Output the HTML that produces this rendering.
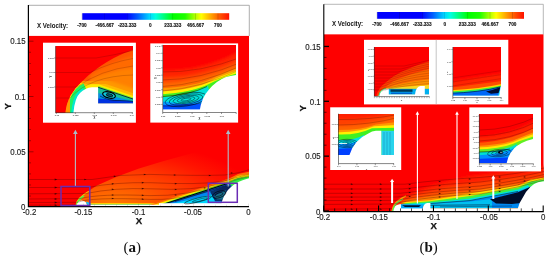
<!DOCTYPE html>
<html><head><meta charset="utf-8"><title>X Velocity contours</title>
<style>
html,body{margin:0;padding:0;background:#fff;}
body{width:550px;height:260px;overflow:hidden;}
svg{display:block;}
</style></head><body>
<svg width="550" height="260" viewBox="0 0 550 260">
<rect width="550" height="260" fill="#fff"/>

<defs>
<linearGradient id="rb" x1="0" x2="1" y1="0" y2="0">
<stop offset="0" stop-color="#0000ff"/><stop offset="0.30" stop-color="#0000ff"/>
<stop offset="0.38" stop-color="#0060ff"/><stop offset="0.46" stop-color="#00d8ff"/>
<stop offset="0.50" stop-color="#00ffe0"/><stop offset="0.57" stop-color="#00ff60"/>
<stop offset="0.62" stop-color="#00ff00"/><stop offset="0.70" stop-color="#20ff00"/>
<stop offset="0.76" stop-color="#a0ff00"/><stop offset="0.81" stop-color="#ffff00"/>
<stop offset="0.88" stop-color="#ffa000"/><stop offset="0.94" stop-color="#ff5000"/>
<stop offset="1" stop-color="#ff1000"/>
</linearGradient>
<filter id="b1" x="-20%" y="-20%" width="140%" height="140%"><feGaussianBlur stdDeviation="0.7"/></filter>
<filter id="b2" x="-20%" y="-20%" width="140%" height="140%"><feGaussianBlur stdDeviation="1.6"/></filter>
<filter id="b3" x="-20%" y="-20%" width="140%" height="140%"><feGaussianBlur stdDeviation="3"/></filter>
<filter id="b0" x="-20%" y="-20%" width="140%" height="140%"><feGaussianBlur stdDeviation="0.35"/></filter>
<clipPath id="ca"><rect x="28" y="36" width="221" height="170"/></clipPath>
<clipPath id="cb"><rect x="324" y="34" width="220" height="177"/></clipPath>
<clipPath id="ca1"><rect x="55.5" y="46" width="77.5" height="67"/></clipPath>
<clipPath id="ca2"><rect x="163" y="45" width="73" height="67"/></clipPath>
<clipPath id="cb1"><rect x="374" y="47" width="55" height="49"/></clipPath>
<clipPath id="cb2"><rect x="453" y="47" width="48" height="50"/></clipPath>
<clipPath id="cb3"><rect x="338" y="114" width="56" height="41"/></clipPath>
<clipPath id="cb4"><rect x="479" y="114" width="54" height="49"/></clipPath>
</defs>

<g id="panelA">
<rect x="28.5" y="35.7" width="220.5" height="170.3" fill="#fe0000"/>
<g clip-path="url(#ca)">
<clipPath id="psA"><path d="M75.5,206 Q76,201 79,198 Q83,194 88.4,191 L97,185.5 L116,177 L139,168.5 L162,161.5 L200,151 L250,140 L250,206 Z"/></clipPath>
<radialGradient id="rgA" gradientUnits="userSpaceOnUse" cx="112" cy="204" r="150" gradientTransform="translate(112 204) scale(1 0.42) translate(-112 -204)"><stop offset="0" stop-color="#ff7a00"/><stop offset="0.22" stop-color="#ff6000"/><stop offset="0.5" stop-color="#ff3c00"/><stop offset="0.8" stop-color="#ff1400"/><stop offset="1" stop-color="#fe0000"/></radialGradient>
<g clip-path="url(#psA)"><rect x="70" y="130" width="185" height="80" fill="url(#rgA)"/>
<path d="M75.5,206 Q76,201 79,198 Q83,194 88.4,191" fill="none" stroke="#ffc000" stroke-width="2" filter="url(#b0)"/>
<path d="M76.8,206 Q77.3,201.5 80,199 Q82,197 84,196" fill="none" stroke="#60f040" stroke-width="1.8" filter="url(#b0)"/>
</g>
<path d="M90,203.4 L160,203.8" stroke="#ffd000" stroke-width="1" filter="url(#b0)"/>
<path d="M90,204.2 L160,204.4" stroke="#60f060" stroke-width="1" filter="url(#b0)"/>
<path d="M148,205.5 L229,178.5 L238,174 L250,171.5 L250,184 L236,184 L222,196 L160,206 Z" fill="#ff7000" filter="url(#b1)"/>
<path d="M152,205.6 L229,180.3 L238,176 L250,174 L250,184 L236,184 L222,196 L160,206 Z" fill="#ffe800" filter="url(#b0)"/>
<path d="M156,205.7 L229,181.8 L238,178 L250,176.3 L250,184 L236,184 L222,196 L160,206 Z" fill="#30f040" filter="url(#b0)"/>
<path d="M159.5,205.5 L229,183 L232,186 L222,203.5 L165,203.8 Z" fill="#0a50b0"/>
<path d="M168,203.8 L215,190 L223,191 L221,203.8 Z" fill="#0088f0" filter="url(#b0)"/>
<path d="M172,203.8 L212,194.5 L216,203.8 Z" fill="#00d8ff" filter="url(#b0)"/>
<path d="M210,191.5 L228,185 L231,187 L224,201 L215,201 Z" fill="#0a1a4a" opacity="0.8"/>
<path d="M214,196 L226,190 L223,199.5 L217,199.5 Z" fill="#1a7a90" opacity="0.8"/>
<path d="M159.5,205.5 L229,183" stroke="#000" stroke-width="1"/>
<path d="M175,201.5 L226,185.5" stroke="#001" stroke-width="0.6" opacity="0.8"/>
<path d="M221,206 L222,201.3 Q225,192 231,187 Q237,181 250,178 L250,206 Z" fill="#fff"/>
<rect x="159" y="203.2" width="70" height="3.5" fill="#fff"/>
<rect x="88" y="204.8" width="162" height="2" fill="#fff"/>
<path d="M76.3,206 Q77.6,200.8 81.5,200.4 Q85,200.6 86,202.5 L87.5,206 Z" fill="#fff"/>
<path d="M86,201.5 L90.5,203.2 L90.5,204.8 L87,204.8 Z" fill="#00c8ff"/>
<path d="M28.5,179.5 L92,179.5 Q120,174 150,174.4 Q200,176 225,175 Q240,173 250,169.5" fill="none" stroke="#400" stroke-width="0.5" opacity="0.6"/>
<path d="M28.5,187.5 L88,187.5 Q115,182 150,182.7 Q200,185 222,181.5 Q238,177 250,174" fill="none" stroke="#400" stroke-width="0.5" opacity="0.6"/>
<path d="M28.5,193.8 L86,193.5 Q115,187.5 150,188.8 Q195,191 220,184 Q238,178 250,175.5" fill="none" stroke="#400" stroke-width="0.5" opacity="0.6"/>
<path d="M28.5,199 L80,198.6 Q100,193.5 150,195.6 Q185,196.5 222,184.5 Q238,179 250,176.5" fill="none" stroke="#400" stroke-width="0.5" opacity="0.6"/>
<path d="M28.5,202.5 L78,202.3 Q90,197 150,199.4 Q175,200 190,195" fill="none" stroke="#400" stroke-width="0.5" opacity="0.6"/>
<path d="M28.5,205.2 L76,205" fill="none" stroke="#400" stroke-width="0.5" opacity="0.6"/>
<path d="M54.7,178.59 L57.3,179.5 L54.7,180.41 Z" fill="#200" opacity="0.8"/>
<path d="M54.7,186.59 L57.3,187.5 L54.7,188.41 Z" fill="#200" opacity="0.8"/>
<path d="M54.7,192.89000000000001 L57.3,193.8 L54.7,194.71 Z" fill="#200" opacity="0.8"/>
<path d="M54.7,198.09 L57.3,199 L54.7,199.91 Z" fill="#200" opacity="0.8"/>
<path d="M54.7,201.59 L57.3,202.5 L54.7,203.41 Z" fill="#200" opacity="0.8"/>
<path d="M54.7,204.29 L57.3,205.2 L54.7,206.10999999999999 Z" fill="#200" opacity="0.8"/>
<path d="M84.3,178.66 L86.7,179.5 L84.3,180.34 Z" fill="#200" opacity="0.8"/>
<path d="M113.8,175.46 L116.2,176.3 L113.8,177.14000000000001 Z" fill="#200" opacity="0.8"/>
<path d="M143.8,173.66 L146.2,174.5 L143.8,175.34 Z" fill="#200" opacity="0.8"/>
<path d="M173.8,174.16 L176.2,175 L173.8,175.84 Z" fill="#200" opacity="0.8"/>
<path d="M208.8,174.66 L211.2,175.5 L208.8,176.34 Z" fill="#200" opacity="0.8"/>
<path d="M111.8,182.96 L114.2,183.8 L111.8,184.64000000000001 Z" fill="#200" opacity="0.8"/>
<path d="M141.8,181.85999999999999 L144.2,182.7 L141.8,183.54 Z" fill="#200" opacity="0.8"/>
<path d="M174.8,182.85999999999999 L177.2,183.7 L174.8,184.54 Z" fill="#200" opacity="0.8"/>
<path d="M111.8,188.46 L114.2,189.3 L111.8,190.14000000000001 Z" fill="#200" opacity="0.8"/>
<path d="M141.8,187.76 L144.2,188.6 L141.8,189.44 Z" fill="#200" opacity="0.8"/>
<path d="M174.8,188.66 L177.2,189.5 L174.8,190.34 Z" fill="#200" opacity="0.8"/>
<path d="M111.8,194.16 L114.2,195 L111.8,195.84 Z" fill="#200" opacity="0.8"/>
<path d="M141.8,194.46 L144.2,195.3 L141.8,196.14000000000001 Z" fill="#200" opacity="0.8"/>
<path d="M174.8,194.16 L177.2,195 L174.8,195.84 Z" fill="#200" opacity="0.8"/>
<path d="M111.8,197.66 L114.2,198.5 L111.8,199.34 Z" fill="#200" opacity="0.8"/>
<path d="M141.8,198.35999999999999 L144.2,199.2 L141.8,200.04 Z" fill="#200" opacity="0.8"/>
<path d="M203.8,187.16 L206.2,188 L203.8,188.84 Z" fill="#200" opacity="0.8"/>
<path d="M230.8,172.16 L233.2,173 L230.8,173.84 Z" fill="#200" opacity="0.8"/>
<ellipse cx="219" cy="194.5" rx="7" ry="3.2" fill="none" stroke="#000" stroke-width="0.6" transform="rotate(-18 219 194.5)"/>
<ellipse cx="219" cy="194.5" rx="4" ry="1.6" fill="none" stroke="#000" stroke-width="0.5" transform="rotate(-18 219 194.5)"/>
<ellipse cx="198" cy="200" rx="14" ry="2" fill="none" stroke="#000" stroke-width="0.5" transform="rotate(-14 198 200)"/>
<ellipse cx="200" cy="200" rx="8" ry="1" fill="none" stroke="#000" stroke-width="0.4" transform="rotate(-14 200 200)"/>
</g>
<rect x="28.5" y="5" width="220.5" height="30.7" fill="#fff"/>
<rect x="82.3" y="13.2" width="146.9" height="6.6" fill="url(#rb)"/>
<text transform="translate(37,27.5) scale(0.92,1)" font-size="6.7" text-anchor="start" font-weight="bold" fill="#111" font-family="Liberation Sans, sans-serif">X Velocity:</text>
<text transform="translate(82,27.2) scale(0.98,1)" font-size="4.8" text-anchor="middle" font-weight="bold" fill="#111" stroke="#111" stroke-width="0.12" font-family="Liberation Sans, sans-serif">-700</text>
<path d="M82,13.4 v6.4" stroke="#000" stroke-width="0.4" opacity="0.35"/>
<text transform="translate(104.7,27.2) scale(0.98,1)" font-size="4.8" text-anchor="middle" font-weight="bold" fill="#111" stroke="#111" stroke-width="0.12" font-family="Liberation Sans, sans-serif">-466.667</text>
<path d="M104.7,13.4 v6.4" stroke="#000" stroke-width="0.4" opacity="0.35"/>
<text transform="translate(127.2,27.2) scale(0.98,1)" font-size="4.8" text-anchor="middle" font-weight="bold" fill="#111" stroke="#111" stroke-width="0.12" font-family="Liberation Sans, sans-serif">-233.333</text>
<path d="M127.2,13.4 v6.4" stroke="#000" stroke-width="0.4" opacity="0.35"/>
<text transform="translate(150.2,27.2) scale(0.98,1)" font-size="4.8" text-anchor="middle" font-weight="bold" fill="#111" stroke="#111" stroke-width="0.12" font-family="Liberation Sans, sans-serif">0</text>
<path d="M150.2,13.4 v6.4" stroke="#000" stroke-width="0.4" opacity="0.35"/>
<text transform="translate(172.8,27.2) scale(0.98,1)" font-size="4.8" text-anchor="middle" font-weight="bold" fill="#111" stroke="#111" stroke-width="0.12" font-family="Liberation Sans, sans-serif">233.333</text>
<path d="M172.8,13.4 v6.4" stroke="#000" stroke-width="0.4" opacity="0.35"/>
<text transform="translate(195.5,27.2) scale(0.98,1)" font-size="4.8" text-anchor="middle" font-weight="bold" fill="#111" stroke="#111" stroke-width="0.12" font-family="Liberation Sans, sans-serif">466.667</text>
<path d="M195.5,13.4 v6.4" stroke="#000" stroke-width="0.4" opacity="0.35"/>
<text transform="translate(218,27.2) scale(0.98,1)" font-size="4.8" text-anchor="middle" font-weight="bold" fill="#111" stroke="#111" stroke-width="0.12" font-family="Liberation Sans, sans-serif">700</text>
<path d="M218,13.4 v6.4" stroke="#000" stroke-width="0.4" opacity="0.35"/>
<path d="M28.5,5.3 L249.3,5.3 L249.3,36" fill="none" stroke="#999" stroke-width="0.8"/>
<path d="M28.4,5 L28.4,206.7 L249,206.7" fill="none" stroke="#000" stroke-width="1.2"/>
<path d="M28.50,206 v-2.4" stroke="#000" stroke-width="0.4" opacity="0.25"/>
<path d="M39.50,206 v-1.4" stroke="#000" stroke-width="0.4" opacity="0.25"/>
<path d="M50.50,206 v-1.4" stroke="#000" stroke-width="0.4" opacity="0.25"/>
<path d="M61.50,206 v-1.4" stroke="#000" stroke-width="0.4" opacity="0.25"/>
<path d="M72.50,206 v-1.4" stroke="#000" stroke-width="0.4" opacity="0.25"/>
<path d="M83.50,206 v-2.4" stroke="#000" stroke-width="0.4" opacity="0.25"/>
<path d="M94.50,206 v-1.4" stroke="#000" stroke-width="0.4" opacity="0.25"/>
<path d="M105.50,206 v-1.4" stroke="#000" stroke-width="0.4" opacity="0.25"/>
<path d="M116.50,206 v-1.4" stroke="#000" stroke-width="0.4" opacity="0.25"/>
<path d="M127.50,206 v-1.4" stroke="#000" stroke-width="0.4" opacity="0.25"/>
<path d="M138.50,206 v-2.4" stroke="#000" stroke-width="0.4" opacity="0.25"/>
<path d="M149.50,206 v-1.4" stroke="#000" stroke-width="0.4" opacity="0.25"/>
<path d="M160.50,206 v-1.4" stroke="#000" stroke-width="0.4" opacity="0.25"/>
<path d="M171.50,206 v-1.4" stroke="#000" stroke-width="0.4" opacity="0.25"/>
<path d="M182.50,206 v-1.4" stroke="#000" stroke-width="0.4" opacity="0.25"/>
<path d="M193.50,206 v-2.4" stroke="#000" stroke-width="0.4" opacity="0.25"/>
<path d="M204.50,206 v-1.4" stroke="#000" stroke-width="0.4" opacity="0.25"/>
<path d="M215.50,206 v-1.4" stroke="#000" stroke-width="0.4" opacity="0.25"/>
<path d="M226.50,206 v-1.4" stroke="#000" stroke-width="0.4" opacity="0.25"/>
<path d="M237.50,206 v-1.4" stroke="#000" stroke-width="0.4" opacity="0.25"/>
<path d="M248.50,206 v-2.4" stroke="#000" stroke-width="0.4" opacity="0.25"/>
<path d="M29,196.04 h2" stroke="#000" stroke-width="0.6" opacity="0.6"/>
<path d="M29,184.98 h2" stroke="#000" stroke-width="0.6" opacity="0.6"/>
<path d="M29,173.92 h2" stroke="#000" stroke-width="0.6" opacity="0.6"/>
<path d="M29,162.86 h2" stroke="#000" stroke-width="0.6" opacity="0.6"/>
<path d="M29,151.80 h4.5" stroke="#000" stroke-width="0.6" opacity="0.6"/>
<path d="M29,140.74 h2" stroke="#000" stroke-width="0.6" opacity="0.6"/>
<path d="M29,129.68 h2" stroke="#000" stroke-width="0.6" opacity="0.6"/>
<path d="M29,118.62 h2" stroke="#000" stroke-width="0.6" opacity="0.6"/>
<path d="M29,107.56 h2" stroke="#000" stroke-width="0.6" opacity="0.6"/>
<path d="M29,96.50 h4.5" stroke="#000" stroke-width="0.6" opacity="0.6"/>
<path d="M29,85.44 h2" stroke="#000" stroke-width="0.6" opacity="0.6"/>
<path d="M29,74.38 h2" stroke="#000" stroke-width="0.6" opacity="0.6"/>
<path d="M29,63.32 h2" stroke="#000" stroke-width="0.6" opacity="0.6"/>
<path d="M29,52.26 h2" stroke="#000" stroke-width="0.6" opacity="0.6"/>
<path d="M29,41.20 h4.5" stroke="#000" stroke-width="0.6" opacity="0.6"/>
<rect x="43" y="42.7" width="92.9" height="80" fill="#fff"/>
<clipPath id="ps1"><path d="M65.3,114 Q66.3,103 70.6,95.7 Q75,88 81.1,82.6 Q87,76 94.2,70.8 Q100,66 107.3,61.7 Q118,55 133,50 L133,114 Z"/></clipPath>
<g clip-path="url(#ca1)">
<rect x="55" y="46" width="78" height="67" fill="#fe0000"/>
<g clip-path="url(#ps1)">
<rect x="56" y="47" width="77" height="67" fill="#ff5400"/>
<path d="M90,114 L90,75 Q110,62 133,56 L133,114 Z" fill="#ff6a00" filter="url(#b2)"/>
<path d="M90,114 L90,80 Q110,70 133,68 L133,114 Z" fill="#ff8000" filter="url(#b2)"/>
<path d="M73.3,114 Q74.5,98 80,93 Q85,88 92,87.3 L98.1,87.3 L133,99" fill="none" stroke="#ff9800" stroke-width="20" filter="url(#b2)"/>
<path d="M73.3,114 Q74.5,98 80,93 Q83,90 86,88.6" fill="none" stroke="#ffe000" stroke-width="15" filter="url(#b1)"/>
<path d="M79,94 Q85,88 92,87.3 L99,87.3" fill="none" stroke="#ffd000" stroke-width="13" filter="url(#b2)"/>
<path d="M84,89.5 Q88,87.5 92,87.3 L98.1,87.3 L133,99" fill="none" stroke="#ffb800" stroke-width="11" filter="url(#b1)"/>
<path d="M84,89.5 Q88,87.5 92,87.3 L98.1,87.3 L133,99" fill="none" stroke="#ffe800" stroke-width="6" filter="url(#b1)"/>
<path d="M98.1,87.3 L133,99" fill="none" stroke="#70f030" stroke-width="2.6" filter="url(#b0)"/>
<path d="M73.3,114 Q74.5,98 80,93 Q83,90 86,88.6" fill="none" stroke="#20f060" stroke-width="11.5" filter="url(#b1)"/>
<path d="M73.3,114 Q74.5,98 80,93 Q82,91 84,89.8" fill="none" stroke="#00e8d0" stroke-width="4.4" filter="url(#b0)"/>
</g>
<path d="M98.1,87.3 L133,99 L133,103.6 L98.1,103.6 Z" fill="#0090e8"/>
<path d="M98.1,87.3 L133,99 L133,101 L98.1,93 Z" fill="#18c098" filter="url(#b0)"/>
<path d="M98.1,98.5 L133,101.5 L133,103.6 L98.1,103.6 Z" fill="#0030e0" filter="url(#b0)"/>
<path d="M98.1,87.3 L133,99" stroke="#112" stroke-width="0.8"/>
<ellipse cx="109" cy="95" rx="6.5" ry="3" fill="#10c8d8" stroke="#000" stroke-width="1.2" transform="rotate(14 109 95)"/>
<ellipse cx="109.5" cy="95.2" rx="3.4" ry="1.3" fill="#0a5a70" stroke="#000" stroke-width="0.7" transform="rotate(14 109.5 95.2)"/>
<path d="M100,96 Q108,101 120,100.5 Q127,100.5 133,101.5" stroke="#012" stroke-width="0.6" fill="none"/>
<path d="M73.3,114 Q74.5,98 80,93 Q85,88 92,87.3 L98.1,87.3 L98.1,103.6 L133,103.6 L133,114 Z" fill="#fff"/>
<path d="M56,58 L96,58 Q115,55 133,50.5" fill="none" stroke="#300" stroke-width="0.4" opacity="0.45"/>
<path d="M56,72.5 L90,72.5 Q112,62 133,58.5" fill="none" stroke="#300" stroke-width="0.4" opacity="0.45"/>
<path d="M56,87 L77,87 Q100,70 133,66" fill="none" stroke="#300" stroke-width="0.4" opacity="0.45"/>
<path d="M56,98 L70,98 Q90,76 133,75" fill="none" stroke="#300" stroke-width="0.4" opacity="0.45"/>
</g>
<path d="M55.6,46.2 L55.6,112.7 L132.8,112.7" fill="none" stroke="#333" stroke-width="0.6"/>
<path d="M56.3,112.5 v1.5" stroke="#333" stroke-width="0.5"/>
<path d="M75.3,112.5 v1.5" stroke="#333" stroke-width="0.5"/>
<path d="M94.3,112.5 v1.5" stroke="#333" stroke-width="0.5"/>
<path d="M113.3,112.5 v1.5" stroke="#333" stroke-width="0.5"/>
<path d="M132.3,112.5 v1.5" stroke="#333" stroke-width="0.5"/>
<path d="M55.6,58 h-1.5" stroke="#333" stroke-width="0.5"/>
<path d="M55.6,72.5 h-1.5" stroke="#333" stroke-width="0.5"/>
<path d="M55.6,87 h-1.5" stroke="#333" stroke-width="0.5"/>
<text x="56.5" y="115.8" font-size="2.3" text-anchor="middle" font-weight="bold" fill="#555" font-family="Liberation Sans, sans-serif" >-0.16</text>
<text x="75.3" y="115.8" font-size="2.3" text-anchor="middle" font-weight="bold" fill="#555" font-family="Liberation Sans, sans-serif" >-0.155</text>
<text x="94.3" y="115.8" font-size="2.3" text-anchor="middle" font-weight="bold" fill="#555" font-family="Liberation Sans, sans-serif" >-0.15</text>
<text x="113.3" y="115.8" font-size="2.3" text-anchor="middle" font-weight="bold" fill="#555" font-family="Liberation Sans, sans-serif" >-0.145</text>
<text x="131.5" y="115.8" font-size="2.3" text-anchor="middle" font-weight="bold" fill="#555" font-family="Liberation Sans, sans-serif" >-0.14</text>
<text x="53.8" y="58.8" font-size="2.3" text-anchor="end" font-weight="bold" fill="#556" font-family="Liberation Sans, sans-serif" >0.015</text>
<text x="53.8" y="73.3" font-size="2.3" text-anchor="end" font-weight="bold" fill="#556" font-family="Liberation Sans, sans-serif" >0.01</text>
<text x="53.8" y="87.8" font-size="2.3" text-anchor="end" font-weight="bold" fill="#556" font-family="Liberation Sans, sans-serif" >0.005</text>
<text x="94.5" y="119" font-size="2.8" text-anchor="middle" font-weight="bold" fill="#333" font-family="Liberation Sans, sans-serif" >X</text>
<text x="50.5" y="77.5" font-size="2.8" text-anchor="middle" font-weight="bold" fill="#333" font-family="Liberation Sans, sans-serif" transform="rotate(-90 50.5 76.5)">Y</text>
<rect x="150.3" y="43.4" width="87.8" height="79.2" fill="#fff"/>
<g clip-path="url(#ca2)">
<rect x="162" y="44" width="75" height="69" fill="#fe0000"/>
<path d="M157,70 Q200,73 242,50 L242,118 L157,118 Z" fill="#ff2000" filter="url(#b2)"/>
<path d="M157,77 Q200,79 242,57 L242,118 L157,118 Z" fill="#ff4400" filter="url(#b2)"/>
<path d="M157,83 Q200,83 242,62 L242,118 L157,118 Z" fill="#ff6800" filter="url(#b2)"/>
<path d="M157,88.5 Q196,86.5 212,78.5 Q220,74 242,66.5 L242,118 L157,118 Z" fill="#ff9800" filter="url(#b1)"/>
<path d="M157,91.7 Q194,90 211,81 Q220,76 242,69 L242,118 L157,118 Z" fill="#fff000" filter="url(#b1)"/>
<path d="M157,94.6 Q192,93 210,83.5 Q220,78 242,71.8 L242,118 L157,118 Z" fill="#40f020" filter="url(#b1)"/>
<path d="M157,97.6 Q190,96 208,86 L216,118 L157,118 Z" fill="#00e0d8" filter="url(#b1)"/>
<path d="M157,101.5 Q172,101.5 180,104 Q192,104 203,98 L212,118 L157,118 Z" fill="#00a0ff" filter="url(#b1)"/>
<path d="M157,105 L203,103.5 L203,118 L157,118 Z" fill="#0050ff" filter="url(#b1)"/>
<ellipse cx="186" cy="99.5" rx="21" ry="6.5" fill="none" stroke="#001" stroke-width="0.55" opacity="0.85" transform="rotate(-9 186 99.5)"/>
<ellipse cx="186" cy="99.5" rx="17" ry="5" fill="none" stroke="#001" stroke-width="0.55" opacity="0.85" transform="rotate(-9 186 99.5)"/>
<ellipse cx="186" cy="99.5" rx="13" ry="3.7" fill="none" stroke="#001" stroke-width="0.55" opacity="0.85" transform="rotate(-9 186 99.5)"/>
<ellipse cx="186" cy="99.5" rx="9" ry="2.5" fill="none" stroke="#001" stroke-width="0.55" opacity="0.85" transform="rotate(-9 186 99.5)"/>
<ellipse cx="186" cy="99.5" rx="5" ry="1.3" fill="none" stroke="#001" stroke-width="0.55" opacity="0.85" transform="rotate(-9 186 99.5)"/>
<path d="M163,96.5 Q190,95 207,86.5" fill="none" stroke="#001" stroke-width="0.6" opacity="0.8"/>
<path d="M163,106 Q185,107 201,103" fill="none" stroke="#001" stroke-width="0.5" opacity="0.7"/>
<path d="M199.3,113 Q201,98 209,89.5 Q216,81 226,77 Q232,75 242,74.3 L242,113 Z" fill="#fff"/>
<rect x="157" y="109.4" width="85" height="5" fill="#fff"/>
<path d="M162,72 Q200,73 242,57" fill="none" stroke="#300" stroke-width="0.4" opacity="0.55"/>
<path d="M162,80 Q200,80 242,62" fill="none" stroke="#300" stroke-width="0.4" opacity="0.55"/>
<path d="M162,86.5 Q200,85 242,65.5" fill="none" stroke="#300" stroke-width="0.4" opacity="0.55"/>
<path d="M162,91 Q200,88.5 242,69" fill="none" stroke="#300" stroke-width="0.4" opacity="0.55"/>
</g>
<path d="M162.7,44.9 L162.7,112.5 L236.2,112.5" fill="none" stroke="#333" stroke-width="0.6"/>
<path d="M162.7,112.5 v1.5" stroke="#333" stroke-width="0.5"/>
<path d="M177.4,112.5 v1.5" stroke="#333" stroke-width="0.5"/>
<path d="M192.1,112.5 v1.5" stroke="#333" stroke-width="0.5"/>
<path d="M206.8,112.5 v1.5" stroke="#333" stroke-width="0.5"/>
<path d="M221.5,112.5 v1.5" stroke="#333" stroke-width="0.5"/>
<path d="M236.2,112.5 v1.5" stroke="#333" stroke-width="0.5"/>
<text x="162.7" y="116.8" font-size="2.2" text-anchor="middle" font-weight="bold" fill="#555" font-family="Liberation Sans, sans-serif" >-0.03</text>
<text x="177.39999999999998" y="116.8" font-size="2.2" text-anchor="middle" font-weight="bold" fill="#555" font-family="Liberation Sans, sans-serif" >-0.025</text>
<text x="192.1" y="116.8" font-size="2.2" text-anchor="middle" font-weight="bold" fill="#555" font-family="Liberation Sans, sans-serif" >-0.02</text>
<text x="206.79999999999998" y="116.8" font-size="2.2" text-anchor="middle" font-weight="bold" fill="#555" font-family="Liberation Sans, sans-serif" >-0.015</text>
<text x="221.5" y="116.8" font-size="2.2" text-anchor="middle" font-weight="bold" fill="#555" font-family="Liberation Sans, sans-serif" >-0.01</text>
<path d="M162.7,46.0 h-1.5" stroke="#333" stroke-width="0.5"/>
<text x="160.6" y="46.8" font-size="2.2" text-anchor="end" font-weight="bold" fill="#555" font-family="Liberation Sans, sans-serif" >0.045</text>
<path d="M162.7,53.3 h-1.5" stroke="#333" stroke-width="0.5"/>
<text x="160.6" y="54.099999999999994" font-size="2.2" text-anchor="end" font-weight="bold" fill="#555" font-family="Liberation Sans, sans-serif" >0.04</text>
<path d="M162.7,60.6 h-1.5" stroke="#333" stroke-width="0.5"/>
<text x="160.6" y="61.4" font-size="2.2" text-anchor="end" font-weight="bold" fill="#555" font-family="Liberation Sans, sans-serif" >0.035</text>
<path d="M162.7,67.9 h-1.5" stroke="#333" stroke-width="0.5"/>
<text x="160.6" y="68.7" font-size="2.2" text-anchor="end" font-weight="bold" fill="#555" font-family="Liberation Sans, sans-serif" >0.03</text>
<path d="M162.7,75.2 h-1.5" stroke="#333" stroke-width="0.5"/>
<text x="160.6" y="76.0" font-size="2.2" text-anchor="end" font-weight="bold" fill="#555" font-family="Liberation Sans, sans-serif" >0.025</text>
<path d="M162.7,82.5 h-1.5" stroke="#333" stroke-width="0.5"/>
<text x="160.6" y="83.3" font-size="2.2" text-anchor="end" font-weight="bold" fill="#555" font-family="Liberation Sans, sans-serif" >0.02</text>
<path d="M162.7,89.8 h-1.5" stroke="#333" stroke-width="0.5"/>
<text x="160.6" y="90.6" font-size="2.2" text-anchor="end" font-weight="bold" fill="#555" font-family="Liberation Sans, sans-serif" >0.015</text>
<path d="M162.7,97.1 h-1.5" stroke="#333" stroke-width="0.5"/>
<text x="160.6" y="97.89999999999999" font-size="2.2" text-anchor="end" font-weight="bold" fill="#555" font-family="Liberation Sans, sans-serif" >0.01</text>
<path d="M162.7,104.4 h-1.5" stroke="#333" stroke-width="0.5"/>
<text x="160.6" y="105.2" font-size="2.2" text-anchor="end" font-weight="bold" fill="#555" font-family="Liberation Sans, sans-serif" >0.005</text>
<text x="199.5" y="119.8" font-size="2.8" text-anchor="middle" font-weight="bold" fill="#333" font-family="Liberation Sans, sans-serif" >X</text>
<text x="155.5" y="79" font-size="2.8" text-anchor="middle" font-weight="bold" fill="#333" font-family="Liberation Sans, sans-serif" transform="rotate(-90 155.5 78)">Y</text>
<path d="M75.4,132.7 L75.4,186" stroke="#b0bcc4" stroke-width="1.1"/>
<path d="M73.10000000000001,134.1 L75.4,129.7 L77.7,134.1 Z" fill="#a8bcc8"/>
<path d="M228.2,132.7 L228.2,186.5" stroke="#b0bcc4" stroke-width="1.1"/>
<path d="M225.89999999999998,134.1 L228.2,129.7 L230.5,134.1 Z" fill="#a8bcc8"/>
<rect x="61" y="186.5" width="28.8" height="19" fill="none" stroke="#6a2cb4" stroke-width="1.5"/>
<rect x="208.3" y="183.3" width="29" height="19" fill="none" stroke="#6a2cb4" stroke-width="1.5"/>
<text transform="translate(25.6,44.2) scale(0.95,1)" font-size="8.3" text-anchor="end" font-weight="normal" fill="#222" stroke="#222" stroke-width="0.15" font-family="Liberation Sans, sans-serif">0.15</text>
<text transform="translate(25.6,99.6) scale(0.95,1)" font-size="8.3" text-anchor="end" font-weight="normal" fill="#222" stroke="#222" stroke-width="0.15" font-family="Liberation Sans, sans-serif">0.1</text>
<text transform="translate(25.6,154.8) scale(0.95,1)" font-size="8.3" text-anchor="end" font-weight="normal" fill="#222" stroke="#222" stroke-width="0.15" font-family="Liberation Sans, sans-serif">0.05</text>
<text transform="translate(25.3,210.1) scale(0.95,1)" font-size="8.3" text-anchor="end" font-weight="normal" fill="#222" stroke="#222" stroke-width="0.15" font-family="Liberation Sans, sans-serif">0</text>
<text transform="translate(29.5,215.4) scale(0.95,1)" font-size="8.3" text-anchor="middle" font-weight="normal" fill="#222" stroke="#222" stroke-width="0.15" font-family="Liberation Sans, sans-serif">-0.2</text>
<text transform="translate(83.4,215.4) scale(0.95,1)" font-size="8.3" text-anchor="middle" font-weight="normal" fill="#222" stroke="#222" stroke-width="0.15" font-family="Liberation Sans, sans-serif">-0.15</text>
<text transform="translate(138.5,215.4) scale(0.95,1)" font-size="8.3" text-anchor="middle" font-weight="normal" fill="#222" stroke="#222" stroke-width="0.15" font-family="Liberation Sans, sans-serif">-0.1</text>
<text transform="translate(193,215.4) scale(0.95,1)" font-size="8.3" text-anchor="middle" font-weight="normal" fill="#222" stroke="#222" stroke-width="0.15" font-family="Liberation Sans, sans-serif">-0.05</text>
<text transform="translate(248.5,215.4) scale(0.95,1)" font-size="8.3" text-anchor="middle" font-weight="normal" fill="#222" stroke="#222" stroke-width="0.15" font-family="Liberation Sans, sans-serif">0</text>
<text x="139" y="224.2" font-size="9.6" text-anchor="middle" font-weight="bold" fill="#111" stroke="#111" stroke-width="0.25" font-family="Liberation Sans, sans-serif" >X</text>
<text transform="translate(11,106.4) rotate(-90)" font-size="9.6" text-anchor="middle" font-weight="bold" fill="#111" stroke="#111" stroke-width="0.25" font-family="Liberation Sans, sans-serif">Y</text>
</g>
<g id="panelB">
<rect x="324" y="34.2" width="219.5" height="176.8" fill="#fe0000"/>
<g clip-path="url(#cb)">
<path d="M393,211 L399,199 Q430,183 470,176 L544,166 L544,211 Z" fill="#ff1c00" filter="url(#b2)"/>
<path d="M395,211 L401,200 Q430,188 470,183 L544,173 L544,211 Z" fill="#ff4000" filter="url(#b2)"/>
<path d="M399,211 L403,201 Q430,193 470,190 L522,182 L522,211 Z" fill="#ff6400" filter="url(#b2)"/>
<path d="M403,211 L406,201 Q430,196 470,191.5 L518,184 L518,211 Z" fill="#ff8000" filter="url(#b1)"/>
<path d="M401,202.6 L430,200.3 L470,193.5 L518,185.5 L531,179.5 L544,177.5 L544,186 L530,188 L515,198 L430,206 Z" fill="#ffe000" filter="url(#b0)"/>
<path d="M401,203.4 L430,201.3 L470,196 L518,187.5 L531,181.5 L544,179.6 L544,186 L530,188 L515,198 L430,206 Z" fill="#40f040" filter="url(#b0)"/>
<path d="M401,204.2 L430,202.4 L470,198.6 L518,189.5 L528,185 L530,188 L515,199 L430,206 Z" fill="#00e0e0" filter="url(#b0)"/>
<rect x="400.5" y="204.2" width="23" height="4.8" fill="#00a8f8"/>
<path d="M402,205.3 L421,205.3 L419,207 L405,207 Z" fill="#013"/>
<path d="M430,203.5 L470,200.5 L518,191.4 L532,186 L532,208.2 L430,208.2 Z" fill="#0088f0"/>
<path d="M430,204 L470,201.5 L492,199 L492,208.2 L430,208.2 Z" fill="#00c0f0" filter="url(#b0)"/>
<path d="M490,199.3 L518,192.3 L530,187 L530,202 L512,204 L496,203.5 Z" fill="#06102c" filter="url(#b0)"/>
<path d="M430,205.3 L490,204.8" stroke="#013" stroke-width="0.7" opacity="0.8"/>
<path d="M440,206.8 L512,206" stroke="#013" stroke-width="0.5" opacity="0.8"/>
<path d="M430,203.5 L470,200.5 L518,191.4" stroke="#012" stroke-width="0.6" fill="none" opacity="0.85"/>
<rect x="400" y="208.4" width="121" height="3" fill="#fff"/>
<path d="M392,211.5 Q393.5,204.8 399.6,204.2 L401,204.2 L401,209 L422.7,209 Q423.5,203.3 427.3,203 L430.4,203 L430.4,211.5 Z" fill="#fff"/>
<path d="M517.5,211.5 L517.9,208.3 Q519.5,202 522.7,197.7 Q526,191 530.4,187 Q534,183.5 538,182.3 L544,181.3 L544,211.5 Z" fill="#fff"/>
<path d="M392,211 Q393,205 397,201.5 Q401,198.3 406,195.8" fill="none" stroke="#ffb000" stroke-width="1.3" opacity="0.85" filter="url(#b0)"/>
<path d="M392.8,211 Q393.8,205.5 397.5,202.5 Q400,200.5 403,199" fill="none" stroke="#50e850" stroke-width="1.3" filter="url(#b0)"/>
<path d="M324,184.2 L405,184.2 Q440,179.5 480,177.5 Q520,174 544,168" fill="none" stroke="#400" stroke-width="0.5" opacity="0.6"/>
<path d="M324,189 L402,189 Q440,184 480,182 Q520,177.5 544,171.5" fill="none" stroke="#400" stroke-width="0.5" opacity="0.6"/>
<path d="M324,193.3 L400,193.3 Q440,188 480,186 Q520,180.5 544,174.5" fill="none" stroke="#400" stroke-width="0.5" opacity="0.6"/>
<path d="M324,197.1 L398,197 Q430,191.5 480,189 Q520,183 544,177" fill="none" stroke="#400" stroke-width="0.5" opacity="0.6"/>
<path d="M324,200.6 L396,200.4 Q425,194.5 480,191.5 Q520,185.5 544,178.5" fill="none" stroke="#400" stroke-width="0.5" opacity="0.6"/>
<path d="M324,204.4 L394,204 Q420,197 480,194 Q520,187.5 544,180" fill="none" stroke="#400" stroke-width="0.5" opacity="0.6"/>
<path d="M324,209.2 L392,208.7" fill="none" stroke="#400" stroke-width="0.5" opacity="0.6"/>
<path d="M350.8,183.35999999999999 L353.2,184.2 L350.8,185.04 Z" fill="#200" opacity="0.8"/>
<path d="M379.8,183.35999999999999 L382.2,184.2 L379.8,185.04 Z" fill="#200" opacity="0.8"/>
<path d="M350.8,188.16 L353.2,189 L350.8,189.84 Z" fill="#200" opacity="0.8"/>
<path d="M379.8,188.16 L382.2,189 L379.8,189.84 Z" fill="#200" opacity="0.8"/>
<path d="M350.8,192.46 L353.2,193.3 L350.8,194.14000000000001 Z" fill="#200" opacity="0.8"/>
<path d="M379.8,192.46 L382.2,193.3 L379.8,194.14000000000001 Z" fill="#200" opacity="0.8"/>
<path d="M350.8,196.26 L353.2,197.1 L350.8,197.94 Z" fill="#200" opacity="0.8"/>
<path d="M379.8,196.26 L382.2,197.1 L379.8,197.94 Z" fill="#200" opacity="0.8"/>
<path d="M350.8,199.76 L353.2,200.6 L350.8,201.44 Z" fill="#200" opacity="0.8"/>
<path d="M379.8,199.76 L382.2,200.6 L379.8,201.44 Z" fill="#200" opacity="0.8"/>
<path d="M350.8,203.56 L353.2,204.4 L350.8,205.24 Z" fill="#200" opacity="0.8"/>
<path d="M379.8,203.56 L382.2,204.4 L379.8,205.24 Z" fill="#200" opacity="0.8"/>
<path d="M350.8,208.35999999999999 L353.2,209.2 L350.8,210.04 Z" fill="#200" opacity="0.8"/>
<path d="M379.8,208.35999999999999 L382.2,209.2 L379.8,210.04 Z" fill="#200" opacity="0.8"/>
<path d="M408.8,183.66 L411.2,184.5 L408.8,185.34 Z" fill="#200" opacity="0.8"/>
<path d="M438.8,180.66 L441.2,181.5 L438.8,182.34 Z" fill="#200" opacity="0.8"/>
<path d="M468.8,178.16 L471.2,179 L468.8,179.84 Z" fill="#200" opacity="0.8"/>
<path d="M498.8,176.16 L501.2,177 L498.8,177.84 Z" fill="#200" opacity="0.8"/>
<path d="M408.8,187.85999999999999 L411.2,188.7 L408.8,189.54 Z" fill="#200" opacity="0.8"/>
<path d="M438.8,184.85999999999999 L441.2,185.7 L438.8,186.54 Z" fill="#200" opacity="0.8"/>
<path d="M468.8,182.66 L471.2,183.5 L468.8,184.34 Z" fill="#200" opacity="0.8"/>
<path d="M498.8,180.16 L501.2,181 L498.8,181.84 Z" fill="#200" opacity="0.8"/>
<path d="M408.8,191.66 L411.2,192.5 L408.8,193.34 Z" fill="#200" opacity="0.8"/>
<path d="M438.8,188.85999999999999 L441.2,189.7 L438.8,190.54 Z" fill="#200" opacity="0.8"/>
<path d="M468.8,186.66 L471.2,187.5 L468.8,188.34 Z" fill="#200" opacity="0.8"/>
<path d="M498.8,184.16 L501.2,185 L498.8,185.84 Z" fill="#200" opacity="0.8"/>
<path d="M408.8,195.66 L411.2,196.5 L408.8,197.34 Z" fill="#200" opacity="0.8"/>
<path d="M438.8,192.66 L441.2,193.5 L438.8,194.34 Z" fill="#200" opacity="0.8"/>
<path d="M468.8,190.16 L471.2,191 L468.8,191.84 Z" fill="#200" opacity="0.8"/>
<path d="M498.8,187.66 L501.2,188.5 L498.8,189.34 Z" fill="#200" opacity="0.8"/>
<path d="M438.8,196.16 L441.2,197 L438.8,197.84 Z" fill="#200" opacity="0.8"/>
<path d="M468.8,193.66 L471.2,194.5 L468.8,195.34 Z" fill="#200" opacity="0.8"/>
<path d="M498.8,190.66 L501.2,191.5 L498.8,192.34 Z" fill="#200" opacity="0.8"/>
<path d="M523.8,180.16 L526.2,181 L523.8,181.84 Z" fill="#200" opacity="0.8"/>
<path d="M523.8,176.16 L526.2,177 L523.8,177.84 Z" fill="#200" opacity="0.8"/>
</g>
<rect x="324" y="4.5" width="219.5" height="29.7" fill="#fff"/>
<rect x="377.2" y="12" width="146.8" height="6.8" fill="url(#rb)"/>
<text transform="translate(332,26) scale(0.92,1)" font-size="6.7" text-anchor="start" font-weight="bold" fill="#111" font-family="Liberation Sans, sans-serif">X Velocity:</text>
<text transform="translate(377,25.7) scale(0.98,1)" font-size="4.8" text-anchor="middle" font-weight="bold" fill="#111" stroke="#111" stroke-width="0.12" font-family="Liberation Sans, sans-serif">-700</text>
<path d="M377,12 v6.8" stroke="#000" stroke-width="0.4" opacity="0.35"/>
<text transform="translate(399.5,25.7) scale(0.98,1)" font-size="4.8" text-anchor="middle" font-weight="bold" fill="#111" stroke="#111" stroke-width="0.12" font-family="Liberation Sans, sans-serif">-466.667</text>
<path d="M399.5,12 v6.8" stroke="#000" stroke-width="0.4" opacity="0.35"/>
<text transform="translate(422.3,25.7) scale(0.98,1)" font-size="4.8" text-anchor="middle" font-weight="bold" fill="#111" stroke="#111" stroke-width="0.12" font-family="Liberation Sans, sans-serif">-233.333</text>
<path d="M422.3,12 v6.8" stroke="#000" stroke-width="0.4" opacity="0.35"/>
<text transform="translate(444.8,25.7) scale(0.98,1)" font-size="4.8" text-anchor="middle" font-weight="bold" fill="#111" stroke="#111" stroke-width="0.12" font-family="Liberation Sans, sans-serif">0</text>
<path d="M444.8,12 v6.8" stroke="#000" stroke-width="0.4" opacity="0.35"/>
<text transform="translate(467.3,25.7) scale(0.98,1)" font-size="4.8" text-anchor="middle" font-weight="bold" fill="#111" stroke="#111" stroke-width="0.12" font-family="Liberation Sans, sans-serif">233.333</text>
<path d="M467.3,12 v6.8" stroke="#000" stroke-width="0.4" opacity="0.35"/>
<text transform="translate(490,25.7) scale(0.98,1)" font-size="4.8" text-anchor="middle" font-weight="bold" fill="#111" stroke="#111" stroke-width="0.12" font-family="Liberation Sans, sans-serif">466.667</text>
<path d="M490,12 v6.8" stroke="#000" stroke-width="0.4" opacity="0.35"/>
<text transform="translate(512.5,25.7) scale(0.98,1)" font-size="4.8" text-anchor="middle" font-weight="bold" fill="#111" stroke="#111" stroke-width="0.12" font-family="Liberation Sans, sans-serif">700</text>
<path d="M512.5,12 v6.8" stroke="#000" stroke-width="0.4" opacity="0.35"/>
<path d="M324,4.3 L543.3,4.3 L543.3,34.5" fill="none" stroke="#999" stroke-width="0.7"/>
<path d="M323.8,4.3 L323.8,211.6 L543.8,211.6" fill="none" stroke="#000" stroke-width="1.1"/>
<path d="M323.70,211 v-5.5" stroke="#000" stroke-width="1.1"/>
<path d="M334.68,211 v-2.6" stroke="#000" stroke-width="0.7"/>
<path d="M345.65,211 v-2.6" stroke="#000" stroke-width="0.7"/>
<path d="M356.62,211 v-2.6" stroke="#000" stroke-width="0.7"/>
<path d="M367.60,211 v-2.6" stroke="#000" stroke-width="0.7"/>
<path d="M378.57,211 v-5.5" stroke="#000" stroke-width="1.1"/>
<path d="M389.55,211 v-2.6" stroke="#000" stroke-width="0.7"/>
<path d="M400.52,211 v-2.6" stroke="#000" stroke-width="0.7"/>
<path d="M411.50,211 v-2.6" stroke="#000" stroke-width="0.7"/>
<path d="M422.47,211 v-2.6" stroke="#000" stroke-width="0.7"/>
<path d="M433.45,211 v-5.5" stroke="#000" stroke-width="1.1"/>
<path d="M444.42,211 v-2.6" stroke="#000" stroke-width="0.7"/>
<path d="M455.40,211 v-2.6" stroke="#000" stroke-width="0.7"/>
<path d="M466.38,211 v-2.6" stroke="#000" stroke-width="0.7"/>
<path d="M477.35,211 v-2.6" stroke="#000" stroke-width="0.7"/>
<path d="M488.32,211 v-5.5" stroke="#000" stroke-width="1.1"/>
<path d="M499.30,211 v-2.6" stroke="#000" stroke-width="0.7"/>
<path d="M510.27,211 v-2.6" stroke="#000" stroke-width="0.7"/>
<path d="M521.25,211 v-2.6" stroke="#000" stroke-width="0.7"/>
<path d="M532.23,211 v-2.6" stroke="#000" stroke-width="0.7"/>
<path d="M543.20,211 v-5.5" stroke="#000" stroke-width="1.1"/>
<path d="M324,211.00 h5" stroke="#000" stroke-width="1.3"/>
<path d="M324,200.03 h2.5" stroke="#000" stroke-width="0.6"/>
<path d="M324,189.06 h2.5" stroke="#000" stroke-width="0.6"/>
<path d="M324,178.09 h2.5" stroke="#000" stroke-width="0.6"/>
<path d="M324,167.12 h2.5" stroke="#000" stroke-width="0.6"/>
<path d="M324,156.15 h5" stroke="#000" stroke-width="1.3"/>
<path d="M324,145.18 h2.5" stroke="#000" stroke-width="0.6"/>
<path d="M324,134.21 h2.5" stroke="#000" stroke-width="0.6"/>
<path d="M324,123.24 h2.5" stroke="#000" stroke-width="0.6"/>
<path d="M324,112.27 h2.5" stroke="#000" stroke-width="0.6"/>
<path d="M324,101.30 h5" stroke="#000" stroke-width="1.3"/>
<path d="M324,90.33 h2.5" stroke="#000" stroke-width="0.6"/>
<path d="M324,79.36 h2.5" stroke="#000" stroke-width="0.6"/>
<path d="M324,68.39 h2.5" stroke="#000" stroke-width="0.6"/>
<path d="M324,57.42 h2.5" stroke="#000" stroke-width="0.6"/>
<path d="M324,46.45 h5" stroke="#000" stroke-width="1.3"/>
<rect x="364" y="39.8" width="144.3" height="64.6" fill="#fff"/>
<path d="M436.2,39.8 V104.4" stroke="#aaa" stroke-width="0.7"/>
<g clip-path="url(#cb1)">
<rect x="374" y="46" width="56" height="51" fill="#fe0000"/>
<path d="M376.5,100 L376.7,94.6 Q379,88 382.8,85 Q388,80 393.6,76.3 Q402,71 410.8,67.7 Q420,64 434,60 L434,100 Z" fill="#ff3c00" filter="url(#b0)"/>
<path d="M378,100 Q382,88 393,81.5 Q410,73 434,68 L434,100 Z" fill="#ff6a00" filter="url(#b1)"/>
<path d="M379,100 Q383,90 394,85.5 Q412,80.5 434,79 L434,100 Z" fill="#ff9400" filter="url(#b1)"/>
<path d="M379.5,100 Q382,90.5 388,88 L434,84.5 L434,100 Z" fill="#f8d820" filter="url(#b0)"/>
<rect x="388" y="88.8" width="46" height="6" fill="#00b0f0"/>
<rect x="390.5" y="89.4" width="22" height="2.4" fill="#012" opacity="0.75"/>
<path d="M391,93.2 H412" stroke="#0040c0" stroke-width="1"/>
<path d="M378.5,100 L378.5,96 Q380,89.3 386,88.8 L388.8,88.8 L388.8,94.6 L415,94.6 Q415.8,86.5 420.5,86 L424.8,86 L424.8,94.6 L434,94.6 L434,100 Z" fill="#fff"/>
<path d="M378.8,96 Q380.3,89.3 386,88.5" fill="none" stroke="#20e060" stroke-width="0.9"/>
<path d="M374,66 L404,66 Q418,63 430,60" fill="none" stroke="#300" stroke-width="0.35" opacity="0.5"/>
<path d="M374,72 L398,72 Q415,67 430,64" fill="none" stroke="#300" stroke-width="0.35" opacity="0.5"/>
<path d="M374,78 L390,78 Q410,71 430,68" fill="none" stroke="#300" stroke-width="0.35" opacity="0.5"/>
<path d="M374,84 L383,84 Q410,75 430,73" fill="none" stroke="#300" stroke-width="0.35" opacity="0.5"/>
<path d="M374,90 L380,90 Q400,80 430,78" fill="none" stroke="#300" stroke-width="0.35" opacity="0.5"/>
<path d="M374,69 L401,69 Q416,65 430,62" fill="none" stroke="#300" stroke-width="0.35" opacity="0.5"/>
<path d="M374,75 L394,75 Q412,69 430,66" fill="none" stroke="#300" stroke-width="0.35" opacity="0.5"/>
<path d="M374,81 L386,81 Q410,73 430,70.5" fill="none" stroke="#300" stroke-width="0.35" opacity="0.5"/>
<path d="M374,87 L381,87 Q405,77.5 430,75.5" fill="none" stroke="#300" stroke-width="0.35" opacity="0.5"/>
<path d="M382,91 Q400,83 430,81" fill="none" stroke="#300" stroke-width="0.35" opacity="0.5"/>
<path d="M385,90 Q402,85.5 430,83.5" fill="none" stroke="#300" stroke-width="0.35" opacity="0.5"/>
</g>
<path d="M374.4,47 L374.4,96.6 L429.5,96.6" fill="none" stroke="#333" stroke-width="0.6"/>
<path d="M374.4,96.6 v1.6" stroke="#555" stroke-width="0.4"/>
<path d="M376.9,96.6 v1.6" stroke="#555" stroke-width="0.4"/>
<path d="M379.4,96.6 v1.6" stroke="#555" stroke-width="0.4"/>
<path d="M381.9,96.6 v1.6" stroke="#555" stroke-width="0.4"/>
<path d="M384.4,96.6 v1.6" stroke="#555" stroke-width="0.4"/>
<path d="M386.9,96.6 v1.6" stroke="#555" stroke-width="0.4"/>
<path d="M389.4,96.6 v1.6" stroke="#555" stroke-width="0.4"/>
<path d="M391.9,96.6 v1.6" stroke="#555" stroke-width="0.4"/>
<path d="M394.4,96.6 v1.6" stroke="#555" stroke-width="0.4"/>
<path d="M396.9,96.6 v1.6" stroke="#555" stroke-width="0.4"/>
<path d="M399.4,96.6 v1.6" stroke="#555" stroke-width="0.4"/>
<path d="M401.9,96.6 v1.6" stroke="#555" stroke-width="0.4"/>
<path d="M404.4,96.6 v1.6" stroke="#555" stroke-width="0.4"/>
<path d="M406.9,96.6 v1.6" stroke="#555" stroke-width="0.4"/>
<path d="M409.4,96.6 v1.6" stroke="#555" stroke-width="0.4"/>
<path d="M411.9,96.6 v1.6" stroke="#555" stroke-width="0.4"/>
<path d="M414.4,96.6 v1.6" stroke="#555" stroke-width="0.4"/>
<path d="M416.9,96.6 v1.6" stroke="#555" stroke-width="0.4"/>
<path d="M419.4,96.6 v1.6" stroke="#555" stroke-width="0.4"/>
<path d="M421.9,96.6 v1.6" stroke="#555" stroke-width="0.4"/>
<path d="M424.4,96.6 v1.6" stroke="#555" stroke-width="0.4"/>
<path d="M426.9,96.6 v1.6" stroke="#555" stroke-width="0.4"/>
<path d="M429.4,96.6 v1.6" stroke="#555" stroke-width="0.4"/>
<path d="M374.4,49.5 h-1.5" stroke="#333" stroke-width="0.4"/>
<text x="372.5" y="50.2" font-size="1.9" text-anchor="end" font-weight="bold" fill="#666" font-family="Liberation Sans, sans-serif" >0.035</text>
<path d="M374.4,56.2 h-1.5" stroke="#333" stroke-width="0.4"/>
<text x="372.5" y="56.900000000000006" font-size="1.9" text-anchor="end" font-weight="bold" fill="#666" font-family="Liberation Sans, sans-serif" >0.03</text>
<path d="M374.4,62.9 h-1.5" stroke="#333" stroke-width="0.4"/>
<text x="372.5" y="63.6" font-size="1.9" text-anchor="end" font-weight="bold" fill="#666" font-family="Liberation Sans, sans-serif" >0.025</text>
<path d="M374.4,69.6 h-1.5" stroke="#333" stroke-width="0.4"/>
<text x="372.5" y="70.3" font-size="1.9" text-anchor="end" font-weight="bold" fill="#666" font-family="Liberation Sans, sans-serif" >0.02</text>
<path d="M374.4,76.3 h-1.5" stroke="#333" stroke-width="0.4"/>
<text x="372.5" y="77.0" font-size="1.9" text-anchor="end" font-weight="bold" fill="#666" font-family="Liberation Sans, sans-serif" >0.015</text>
<path d="M374.4,83.0 h-1.5" stroke="#333" stroke-width="0.4"/>
<text x="372.5" y="83.7" font-size="1.9" text-anchor="end" font-weight="bold" fill="#666" font-family="Liberation Sans, sans-serif" >0.01</text>
<path d="M374.4,89.7 h-1.5" stroke="#333" stroke-width="0.4"/>
<text x="372.5" y="90.4" font-size="1.9" text-anchor="end" font-weight="bold" fill="#666" font-family="Liberation Sans, sans-serif" >0.005</text>
<text x="401.5" y="101.3" font-size="2.3" text-anchor="middle" font-weight="bold" fill="#333" font-family="Liberation Sans, sans-serif" >X</text>
<text x="368.5" y="71" font-size="2.3" text-anchor="middle" font-weight="bold" fill="#333" font-family="Liberation Sans, sans-serif" transform="rotate(-90 368.5 70.3)">Y</text>
<g clip-path="url(#cb2)">
<rect x="452" y="46" width="50" height="52" fill="#fe0000"/>
<path d="M448,82 L506,73 L506,101 L448,101 Z" fill="#ff2200" filter="url(#b2)"/>
<path d="M448,88 L506,80.5 L506,101 L448,101 Z" fill="#ff5000" filter="url(#b1)"/>
<path d="M448,90.3 Q480,89 506,83 L506,101 L448,101 Z" fill="#ffd800" filter="url(#b0)"/>
<path d="M448,91.5 Q480,90.3 506,84.5 L506,101 L448,101 Z" fill="#30f040" filter="url(#b0)"/>
<path d="M448,92.5 Q480,91.5 506,85.8 L506,101 L448,101 Z" fill="#00d8f0" filter="url(#b0)"/>
<path d="M448,93.3 Q480,92.5 500.5,86.8 L498,95.7 L448,95.7 Z" fill="#0068f8"/>
<path d="M448,93.3 Q480,92.5 500.5,86.8" stroke="#001" stroke-width="0.6" fill="none"/>
<path d="M486,91.6 Q494,89.5 500.3,87.2 L498.5,93 L491,93.8 Z" fill="#000c30"/>
<path d="M498.4,101 L500.7,86.5 L506,86 L506,101 Z" fill="#fff"/>
<rect x="448" y="95.7" width="58" height="5" fill="#fff"/>
<path d="M452,78 L502,70.5" fill="none" stroke="#300" stroke-width="0.35" opacity="0.45"/>
<path d="M452,82 L502,74.5" fill="none" stroke="#300" stroke-width="0.35" opacity="0.45"/>
<path d="M452,86 L502,78.5" fill="none" stroke="#300" stroke-width="0.35" opacity="0.45"/>
</g>
<path d="M452.8,47 L452.8,97.6 L501.5,97.6" fill="none" stroke="#333" stroke-width="0.6"/>
<path d="M452.8,97.6 v1.6" stroke="#333" stroke-width="0.5"/>
<text x="452.8" y="101" font-size="1.9" text-anchor="middle" font-weight="bold" fill="#666" font-family="Liberation Sans, sans-serif" >-0.08</text>
<path d="M464.9,97.6 v1.6" stroke="#333" stroke-width="0.5"/>
<text x="464.90000000000003" y="101" font-size="1.9" text-anchor="middle" font-weight="bold" fill="#666" font-family="Liberation Sans, sans-serif" >-0.07</text>
<path d="M477.0,97.6 v1.6" stroke="#333" stroke-width="0.5"/>
<text x="477.0" y="101" font-size="1.9" text-anchor="middle" font-weight="bold" fill="#666" font-family="Liberation Sans, sans-serif" >-0.06</text>
<path d="M489.1,97.6 v1.6" stroke="#333" stroke-width="0.5"/>
<text x="489.1" y="101" font-size="1.9" text-anchor="middle" font-weight="bold" fill="#666" font-family="Liberation Sans, sans-serif" >-0.05</text>
<path d="M501.2,97.6 v1.6" stroke="#333" stroke-width="0.5"/>
<text x="501.2" y="101" font-size="1.9" text-anchor="middle" font-weight="bold" fill="#666" font-family="Liberation Sans, sans-serif" >-0.04</text>
<path d="M452.8,49.5 h-1.5" stroke="#333" stroke-width="0.4"/>
<text x="450.8" y="50.2" font-size="1.9" text-anchor="end" font-weight="bold" fill="#666" font-family="Liberation Sans, sans-serif" >0.04</text>
<path d="M452.8,61.8 h-1.5" stroke="#333" stroke-width="0.4"/>
<text x="450.8" y="62.5" font-size="1.9" text-anchor="end" font-weight="bold" fill="#666" font-family="Liberation Sans, sans-serif" >0.03</text>
<path d="M452.8,74.1 h-1.5" stroke="#333" stroke-width="0.4"/>
<text x="450.8" y="74.8" font-size="1.9" text-anchor="end" font-weight="bold" fill="#666" font-family="Liberation Sans, sans-serif" >0.02</text>
<path d="M452.8,86.4 h-1.5" stroke="#333" stroke-width="0.4"/>
<text x="450.8" y="87.10000000000001" font-size="1.9" text-anchor="end" font-weight="bold" fill="#666" font-family="Liberation Sans, sans-serif" >0.01</text>
<text x="477" y="103.2" font-size="2.3" text-anchor="middle" font-weight="bold" fill="#333" font-family="Liberation Sans, sans-serif" >X</text>
<text x="446.8" y="73" font-size="2.3" text-anchor="middle" font-weight="bold" fill="#333" font-family="Liberation Sans, sans-serif" transform="rotate(-90 446.8 72.3)">Y</text>
<rect x="330.2" y="107.3" width="71" height="62.7" fill="#fff"/>
<g clip-path="url(#cb3)">
<rect x="338" y="113" width="57" height="43" fill="#fe0000"/>
<path d="M334,110 L398,110 L398,160 L334,160 Z" fill="#ff2000"/>
<path d="M334,119 Q370,120 398,112 L398,160 L334,160 Z" fill="#ff4000" filter="url(#b2)"/>
<path d="M334,126 Q365,126 398,116.5 L398,160 L334,160 Z" fill="#ff6400" filter="url(#b2)"/>
<path d="M334,130 Q360,130.5 376,124.5 L398,122 L398,160 L334,160 Z" fill="#ff9800" filter="url(#b1)"/>
<path d="M334,132 Q358,133 374,126.3 L398,125 L398,160 L334,160 Z" fill="#fff000" filter="url(#b0)"/>
<path d="M334,134.3 Q356,136 372,128.3 L398,127.8 L398,160 L334,160 Z" fill="#40f020" filter="url(#b1)"/>
<path d="M334,139.5 Q352,141.5 364,135 L364,160 L334,160 Z" fill="#00e0e0" filter="url(#b1)"/>
<path d="M334,143.5 Q350,145 358,141 L358,160 L334,160 Z" fill="#0090ff" filter="url(#b1)"/>
<path d="M334,149 L354,148 L354,160 L334,160 Z" fill="#0040ff" filter="url(#b1)"/>
<rect x="381.3" y="130.8" width="17" height="30" fill="#28d4ec"/>
<ellipse cx="347" cy="143.5" rx="11" ry="4.2" fill="none" stroke="#001" stroke-width="0.5" opacity="0.85"/>
<ellipse cx="347" cy="143.5" rx="8" ry="3" fill="none" stroke="#001" stroke-width="0.5" opacity="0.85"/>
<ellipse cx="347" cy="143.5" rx="5" ry="1.8" fill="none" stroke="#001" stroke-width="0.5" opacity="0.85"/>
<ellipse cx="347" cy="143.5" rx="2" ry="0.7" fill="none" stroke="#001" stroke-width="0.5" opacity="0.85"/>
<path d="M347,143.5 h-8" stroke="#fff" stroke-width="0.8"/>
<path d="M348.5,160 L349.4,155.2 Q354,140 368.3,133.6 Q372,131 375.9,130.8 L381.3,130.8 L381.3,160 Z" fill="#fff"/>
<path d="M338,119.5 Q370,120 398,114.5" fill="none" stroke="#300" stroke-width="0.4" opacity="0.6"/>
<path d="M338,125 Q370,125 398,117.5" fill="none" stroke="#300" stroke-width="0.4" opacity="0.6"/>
<path d="M384,132 V155" stroke="#048" stroke-width="0.4" opacity="0.7"/>
<path d="M387,132 V155" stroke="#048" stroke-width="0.4" opacity="0.7"/>
<path d="M390,132 V155" stroke="#048" stroke-width="0.4" opacity="0.7"/>
</g>
<path d="M338.5,113.7 L338.5,163.6 L394,163.6" fill="none" stroke="#333" stroke-width="0.6"/>
<path d="M338.5,163.6 v1.6" stroke="#333" stroke-width="0.5"/>
<text x="338.5" y="167" font-size="1.9" text-anchor="middle" font-weight="bold" fill="#666" font-family="Liberation Sans, sans-serif" >-0.14</text>
<path d="M356.9,163.6 v1.6" stroke="#333" stroke-width="0.5"/>
<text x="356.9" y="167" font-size="1.9" text-anchor="middle" font-weight="bold" fill="#666" font-family="Liberation Sans, sans-serif" >-0.13</text>
<path d="M375.3,163.6 v1.6" stroke="#333" stroke-width="0.5"/>
<text x="375.3" y="167" font-size="1.9" text-anchor="middle" font-weight="bold" fill="#666" font-family="Liberation Sans, sans-serif" >-0.12</text>
<path d="M393.7,163.6 v1.6" stroke="#333" stroke-width="0.5"/>
<text x="393.7" y="167" font-size="1.9" text-anchor="middle" font-weight="bold" fill="#666" font-family="Liberation Sans, sans-serif" >-0.11</text>
<path d="M338.5,124.5 h-1.5" stroke="#333" stroke-width="0.4"/>
<text x="336.5" y="125.2" font-size="1.9" text-anchor="end" font-weight="bold" fill="#666" font-family="Liberation Sans, sans-serif" >0.015</text>
<path d="M338.5,137.5 h-1.5" stroke="#333" stroke-width="0.4"/>
<text x="336.5" y="138.2" font-size="1.9" text-anchor="end" font-weight="bold" fill="#666" font-family="Liberation Sans, sans-serif" >0.01</text>
<path d="M338.5,144.7 h-1.5" stroke="#333" stroke-width="0.4"/>
<text x="336.5" y="145.39999999999998" font-size="1.9" text-anchor="end" font-weight="bold" fill="#666" font-family="Liberation Sans, sans-serif" >0.005</text>
<text x="366.5" y="169.5" font-size="2.3" text-anchor="middle" font-weight="bold" fill="#333" font-family="Liberation Sans, sans-serif" >X</text>
<text x="333.5" y="139" font-size="2.3" text-anchor="middle" font-weight="bold" fill="#333" font-family="Liberation Sans, sans-serif" transform="rotate(-90 333.5 138.3)">Y</text>
<rect x="469.3" y="107.4" width="71.7" height="64" fill="#fff"/>
<g clip-path="url(#cb4)">
<rect x="479" y="114" width="55" height="48" fill="#fe0000"/>
<path d="M475,137 Q510,137 538,119 L538,168 L475,168 Z" fill="#ff2400" filter="url(#b2)"/>
<path d="M475,143 Q510,142 538,126 L538,168 L475,168 Z" fill="#ff5800" filter="url(#b1)"/>
<path d="M475,146 Q506,145 519,138 L538,130.5 L538,168 L475,168 Z" fill="#ff9800" filter="url(#b1)"/>
<path d="M475,147.6 Q506,146.5 519,139.5 L538,132.5 L538,168 L475,168 Z" fill="#ffe800" filter="url(#b0)"/>
<path d="M475,149.6 Q506,148.4 519,141.3 L538,135 L538,168 L475,168 Z" fill="#60f020" filter="url(#b1)"/>
<path d="M475,152.5 Q504,151.5 517,144 L520,168 L475,168 Z" fill="#00e0d0" filter="url(#b1)"/>
<path d="M475,155.5 Q502,154.5 514,148 L514,168 L475,168 Z" fill="#0090ff" filter="url(#b1)"/>
<path d="M475,159 L508,157.5 L508,168 L475,168 Z" fill="#0040ff" filter="url(#b1)"/>
<path d="M479,152 Q495,152.5 510,149" fill="none" stroke="#001" stroke-width="0.7" opacity="0.7"/>
<ellipse cx="499.5" cy="153" rx="12" ry="3.6" fill="none" stroke="#001" stroke-width="0.5" opacity="0.85" transform="rotate(-5 499.5 153)"/>
<ellipse cx="499.5" cy="153" rx="8" ry="2.4" fill="none" stroke="#001" stroke-width="0.5" opacity="0.85" transform="rotate(-5 499.5 153)"/>
<ellipse cx="499.5" cy="153" rx="4" ry="1.2" fill="none" stroke="#001" stroke-width="0.5" opacity="0.85" transform="rotate(-5 499.5 153)"/>
<ellipse cx="500.5" cy="152.3" rx="2.6" ry="1.5" fill="#001"/>
<path d="M500,152.3 h2.4" stroke="#aff" stroke-width="0.7"/>
<path d="M506,168 L506.7,162.9 Q508.5,154 514,148.5 Q521,141 538,137.8 L538,168 Z" fill="#fff"/>
<path d="M479,130 Q510,130 538,116" fill="none" stroke="#300" stroke-width="0.4" opacity="0.6"/>
<path d="M479,136 Q510,135.5 538,121" fill="none" stroke="#300" stroke-width="0.4" opacity="0.6"/>
<path d="M479,141 Q510,140 538,126" fill="none" stroke="#300" stroke-width="0.4" opacity="0.6"/>
</g>
<path d="M479.4,114.5 L479.4,163.8 L533.6,163.8" fill="none" stroke="#333" stroke-width="0.6"/>
<path d="M479.4,163.8 v1.6" stroke="#333" stroke-width="0.5"/>
<text x="479.4" y="167.2" font-size="1.9" text-anchor="middle" font-weight="bold" fill="#666" font-family="Liberation Sans, sans-serif" >-0.035</text>
<path d="M490.2,163.8 v1.6" stroke="#333" stroke-width="0.5"/>
<text x="490.2" y="167.2" font-size="1.9" text-anchor="middle" font-weight="bold" fill="#666" font-family="Liberation Sans, sans-serif" >-0.03</text>
<path d="M501.0,163.8 v1.6" stroke="#333" stroke-width="0.5"/>
<text x="501.0" y="167.2" font-size="1.9" text-anchor="middle" font-weight="bold" fill="#666" font-family="Liberation Sans, sans-serif" >-0.025</text>
<path d="M511.8,163.8 v1.6" stroke="#333" stroke-width="0.5"/>
<text x="511.79999999999995" y="167.2" font-size="1.9" text-anchor="middle" font-weight="bold" fill="#666" font-family="Liberation Sans, sans-serif" >-0.02</text>
<path d="M522.6,163.8 v1.6" stroke="#333" stroke-width="0.5"/>
<text x="522.6" y="167.2" font-size="1.9" text-anchor="middle" font-weight="bold" fill="#666" font-family="Liberation Sans, sans-serif" >-0.015</text>
<path d="M533.4,163.8 v1.6" stroke="#333" stroke-width="0.5"/>
<text x="533.4" y="167.2" font-size="1.9" text-anchor="middle" font-weight="bold" fill="#666" font-family="Liberation Sans, sans-serif" >-0.01</text>
<path d="M479.4,116.0 h-1.5" stroke="#333" stroke-width="0.4"/>
<text x="477.5" y="116.7" font-size="1.9" text-anchor="end" font-weight="bold" fill="#666" font-family="Liberation Sans, sans-serif" >0.045</text>
<path d="M479.4,121.3 h-1.5" stroke="#333" stroke-width="0.4"/>
<text x="477.5" y="122.0" font-size="1.9" text-anchor="end" font-weight="bold" fill="#666" font-family="Liberation Sans, sans-serif" >0.04</text>
<path d="M479.4,126.6 h-1.5" stroke="#333" stroke-width="0.4"/>
<text x="477.5" y="127.3" font-size="1.9" text-anchor="end" font-weight="bold" fill="#666" font-family="Liberation Sans, sans-serif" >0.035</text>
<path d="M479.4,131.9 h-1.5" stroke="#333" stroke-width="0.4"/>
<text x="477.5" y="132.6" font-size="1.9" text-anchor="end" font-weight="bold" fill="#666" font-family="Liberation Sans, sans-serif" >0.03</text>
<path d="M479.4,137.2 h-1.5" stroke="#333" stroke-width="0.4"/>
<text x="477.5" y="137.89999999999998" font-size="1.9" text-anchor="end" font-weight="bold" fill="#666" font-family="Liberation Sans, sans-serif" >0.025</text>
<path d="M479.4,142.5 h-1.5" stroke="#333" stroke-width="0.4"/>
<text x="477.5" y="143.2" font-size="1.9" text-anchor="end" font-weight="bold" fill="#666" font-family="Liberation Sans, sans-serif" >0.02</text>
<path d="M479.4,147.8 h-1.5" stroke="#333" stroke-width="0.4"/>
<text x="477.5" y="148.5" font-size="1.9" text-anchor="end" font-weight="bold" fill="#666" font-family="Liberation Sans, sans-serif" >0.015</text>
<path d="M479.4,153.1 h-1.5" stroke="#333" stroke-width="0.4"/>
<text x="477.5" y="153.79999999999998" font-size="1.9" text-anchor="end" font-weight="bold" fill="#666" font-family="Liberation Sans, sans-serif" >0.01</text>
<path d="M479.4,158.4 h-1.5" stroke="#333" stroke-width="0.4"/>
<text x="477.5" y="159.1" font-size="1.9" text-anchor="end" font-weight="bold" fill="#666" font-family="Liberation Sans, sans-serif" >0.005</text>
<text x="507" y="169.8" font-size="2.3" text-anchor="middle" font-weight="bold" fill="#333" font-family="Liberation Sans, sans-serif" >X</text>
<text x="473.5" y="140" font-size="2.3" text-anchor="middle" font-weight="bold" fill="#333" font-family="Liberation Sans, sans-serif" transform="rotate(-90 473.5 139.3)">Y</text>
<path d="M417.4,113.2 L417.4,203.5" stroke="#fff" stroke-width="1.1"/>
<path d="M415.59999999999997,114.8 L417.4,111.2 L419.2,114.8 Z" fill="#fff"/>
<path d="M457,113.2 L457,199" stroke="#fff" stroke-width="1.1"/>
<path d="M455.2,114.8 L457,111.2 L458.8,114.8 Z" fill="#fff"/>
<path d="M392.1,180.8 L392.1,203" stroke="#fff" stroke-width="2"/>
<path d="M390.1,182.10000000000002 L392.1,178.8 L394.1,182.10000000000002 Z" fill="#fff"/>
<path d="M493.3,177.3 L493.3,199" stroke="#fff" stroke-width="2"/>
<path d="M491.3,178.60000000000002 L493.3,175.3 L495.3,178.60000000000002 Z" fill="#fff"/>
<text transform="translate(320.7,49.7) scale(0.95,1)" font-size="8.3" text-anchor="end" font-weight="normal" fill="#222" stroke="#222" stroke-width="0.15" font-family="Liberation Sans, sans-serif">0.15</text>
<text transform="translate(320.7,104.7) scale(0.95,1)" font-size="8.3" text-anchor="end" font-weight="normal" fill="#222" stroke="#222" stroke-width="0.15" font-family="Liberation Sans, sans-serif">0.1</text>
<text transform="translate(320.7,159.3) scale(0.95,1)" font-size="8.3" text-anchor="end" font-weight="normal" fill="#222" stroke="#222" stroke-width="0.15" font-family="Liberation Sans, sans-serif">0.05</text>
<text transform="translate(320.3,215) scale(0.95,1)" font-size="8.3" text-anchor="end" font-weight="normal" fill="#222" stroke="#222" stroke-width="0.15" font-family="Liberation Sans, sans-serif">0</text>
<text transform="translate(323.4,220.4) scale(0.95,1)" font-size="8.3" text-anchor="middle" font-weight="normal" fill="#222" stroke="#222" stroke-width="0.15" font-family="Liberation Sans, sans-serif">-0.2</text>
<text transform="translate(378.8,220.4) scale(0.95,1)" font-size="8.3" text-anchor="middle" font-weight="normal" fill="#222" stroke="#222" stroke-width="0.15" font-family="Liberation Sans, sans-serif">-0.15</text>
<text transform="translate(433.5,220.4) scale(0.95,1)" font-size="8.3" text-anchor="middle" font-weight="normal" fill="#222" stroke="#222" stroke-width="0.15" font-family="Liberation Sans, sans-serif">-0.1</text>
<text transform="translate(489,220.4) scale(0.95,1)" font-size="8.3" text-anchor="middle" font-weight="normal" fill="#222" stroke="#222" stroke-width="0.15" font-family="Liberation Sans, sans-serif">-0.05</text>
<text transform="translate(543.3,220.4) scale(0.95,1)" font-size="8.3" text-anchor="middle" font-weight="normal" fill="#222" stroke="#222" stroke-width="0.15" font-family="Liberation Sans, sans-serif">0</text>
<text x="433.7" y="228.7" font-size="9.6" text-anchor="middle" font-weight="bold" fill="#111" stroke="#111" stroke-width="0.25" font-family="Liberation Sans, sans-serif" >X</text>
<text transform="translate(306.1,108.2) rotate(-90)" font-size="9.6" text-anchor="middle" font-weight="bold" fill="#111" stroke="#111" stroke-width="0.25" font-family="Liberation Sans, sans-serif">Y</text>
</g>
<text x="132.3" y="252.3" font-size="15" text-anchor="middle" fill="#111" font-family="Liberation Serif, serif">(<tspan font-weight="bold">a</tspan>)</text>
<text x="428.6" y="252.3" font-size="15" text-anchor="middle" fill="#111" font-family="Liberation Serif, serif">(<tspan font-weight="bold">b</tspan>)</text>
</svg>
</body></html>
